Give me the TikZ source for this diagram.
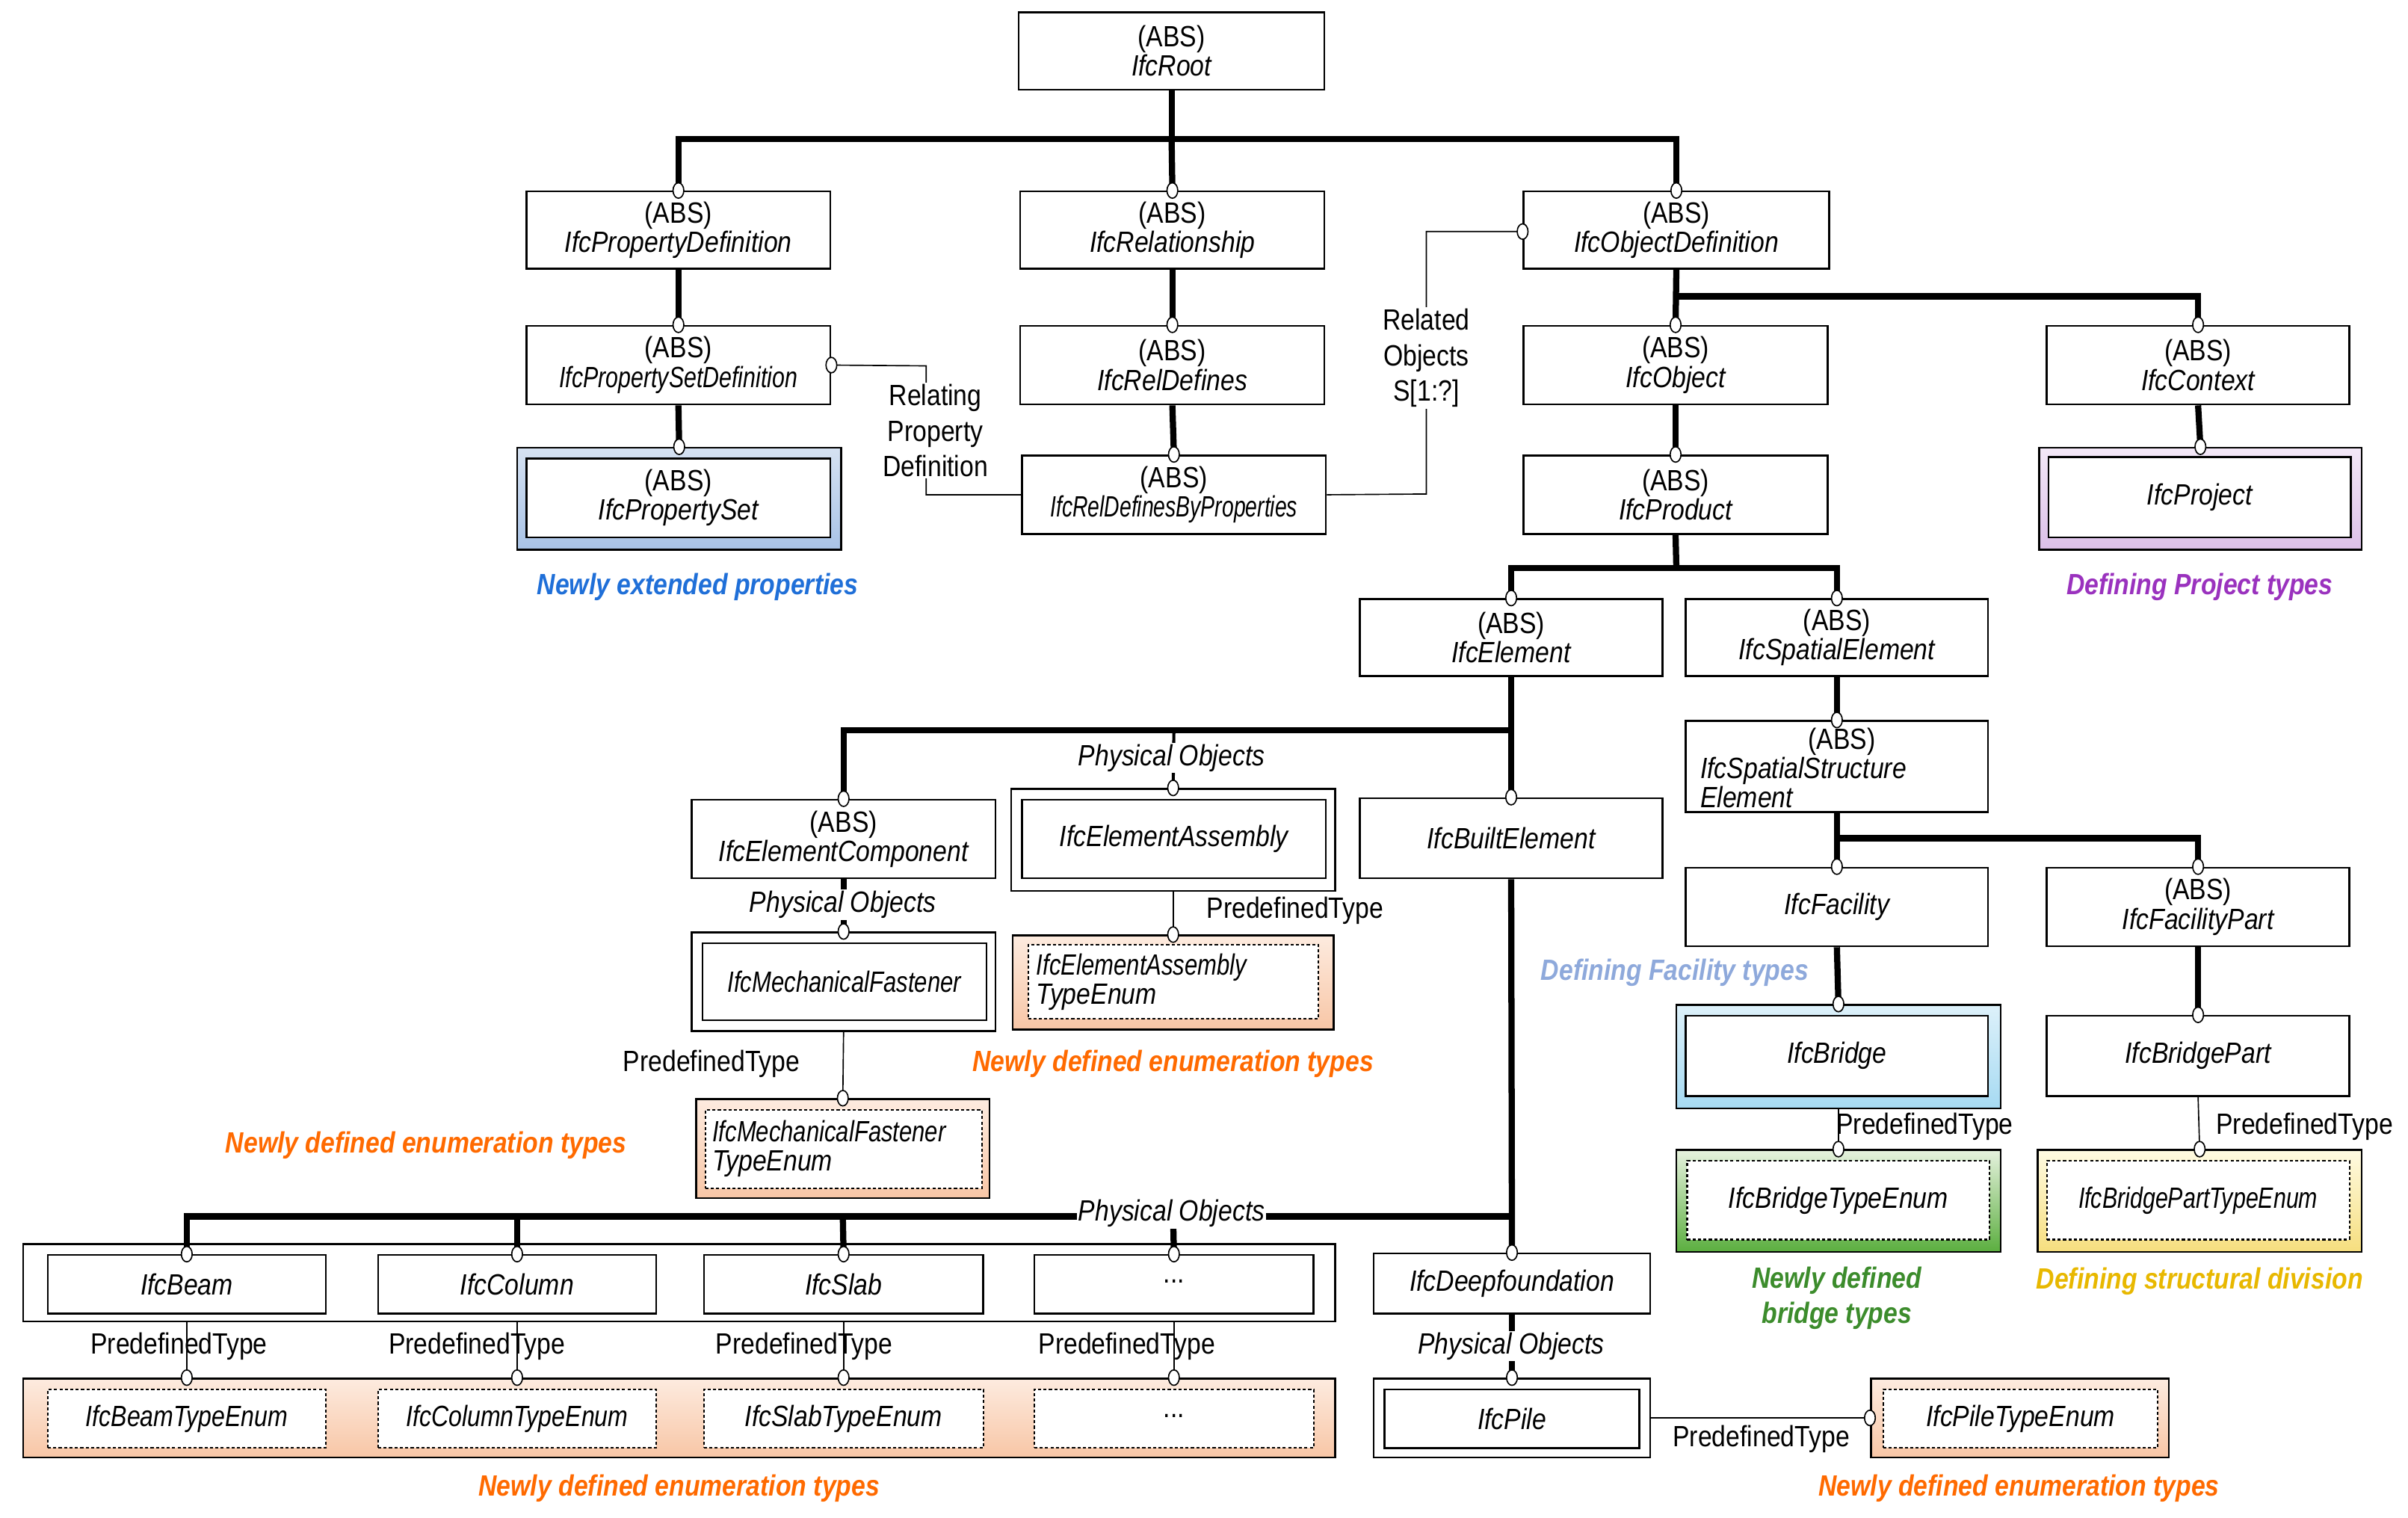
\documentclass[tikz,border=0pt]{standalone}
\usepackage{fontspec}
\setmainfont{Liberation Sans}[FakeStretch=0.86]
\usetikzlibrary{fit,shapes.geometric}
\definecolor{pkT}{HTML}{FDEBDF}\definecolor{pkB}{HTML}{F8C6A6}
\definecolor{blT}{HTML}{D6E2F2}\definecolor{blB}{HTML}{A9C3E6}
\definecolor{puT}{HTML}{F3E8F7}\definecolor{puB}{HTML}{DCC0E8}
\definecolor{lbT}{HTML}{DDF1FA}\definecolor{lbB}{HTML}{A6DAF2}
\definecolor{grT}{HTML}{E6F2DE}\definecolor{grB}{HTML}{5BAE3F}
\definecolor{ylT}{HTML}{FFFBE2}\definecolor{ylB}{HTML}{F6DE7E}
\definecolor{cblue}{HTML}{1F6FD8}\definecolor{corange}{HTML}{FF6A00}
\definecolor{cpurple}{HTML}{9A32BE}\definecolor{cfac}{HTML}{8EA9DB}
\definecolor{cgreen}{HTML}{3C8C2C}\definecolor{cgold}{HTML}{E8B800}
\tikzset{
  bx/.style={draw,line width=1.2pt,fill=white},
  dbx/.style={draw,line width=1pt,fill=white,dash pattern=on 2pt off 1.5pt},
  pk/.style={draw,line width=1.2pt,top color=pkT,bottom color=pkB},
  bl/.style={draw,line width=1.2pt,top color=blT,bottom color=blB},
  pu/.style={draw,line width=1.2pt,top color=puT,bottom color=puB},
  lb/.style={draw,line width=1.2pt,top color=lbT,bottom color=lbB},
  gr/.style={draw,line width=1.2pt,top color=grT,bottom color=grB},
  yl/.style={draw,line width=1.2pt,top color=ylT,bottom color=ylB},
  bus/.style={line width=4pt},
  thin/.style={line width=0.8pt},
  dot/.style={ellipse,draw,fill=white,line width=0.8pt,minimum width=7pt,minimum height=10pt,inner sep=0pt},
  txt/.style={align=center,font=\fontsize{19}{19}\selectfont},
  lab/.style={align=center,font=\fontsize{19}{23}\selectfont,fill=white,inner sep=1pt},
  note/.style={align=center,font=\fontsize{19}{23}\selectfont\bfseries\itshape},
}
\newcommand\mkbox[7]{\node[#1,fit={(#3,#4)(#5,#6)},inner sep=0pt](#2){};\node[txt] at (#2.center) {#7};}
\newcommand\abs[1]{(ABS)\\\itshape #1}
\newcommand\sq[2]{\scalebox{#1}[1]{#2}}
\begin{document}
\begin{tikzpicture}[x=1pt,y=-1pt]
\useasboundingbox[fill=white] (0,0) rectangle (1560,983);
% outer containers
\node[bl,fit={(335,290)(545,356)},inner sep=0pt](psout){};
\node[pu,fit={(1321,290)(1530,356)},inner sep=0pt](prout){};
\node[bx,fit={(655,511)(865,577)},inner sep=0pt](eaout){};
\node[pk,fit={(656,606)(864,667)},inner sep=0pt](eaeout){};
\node[bx,fit={(448,604)(645,668)},inner sep=0pt](mfout){};
\node[pk,fit={(451,712)(641,776)},inner sep=0pt](mfeout){};
\node[lb,fit={(1086,651)(1296,718)},inner sep=0pt](brout){};
\node[gr,fit={(1086,745)(1296,811)},inner sep=0pt](breout){};
\node[yl,fit={(1320,745)(1530,811)},inner sep=0pt](bpeout){};
\node[bx,fit={(15,806)(865,856)},inner sep=0pt](rowout){};
\node[pk,fit={(15,893)(865,944)},inner sep=0pt](enout){};
\node[bx,fit={(890,893)(1069,944)},inner sep=0pt](pileout){};
\node[pk,fit={(1212,893)(1405,944)},inner sep=0pt](pteout){};
% boxes
\mkbox{bx}{root}{660}{8}{858}{58}{\abs{IfcRoot}}
\mkbox{bx}{pdef}{341}{124}{538}{174}{\abs{IfcPropertyDefinition}}
\mkbox{bx}{rel}{661}{124}{858}{174}{\abs{IfcRelationship}}
\mkbox{bx}{odef}{987}{124}{1185}{174}{\abs{IfcObjectDefinition}}
\mkbox{bx}{psdef}{341}{211}{538}{262}{\abs{\sq{0.9}{IfcPropertySetDefinition}}}
\mkbox{bx}{reld}{661}{211}{858}{262}{\abs{IfcRelDefines}}
\mkbox{bx}{pset}{341}{297}{538}{348}{\abs{IfcPropertySet}}
\mkbox{bx}{rdbp}{662}{295}{859}{346}{\abs{\sq{0.84}{IfcRelDefinesByProperties}}}
\mkbox{bx}{obj}{987}{211}{1184}{262}{\abs{IfcObject}}
\mkbox{bx}{ctx}{1326}{211}{1522}{262}{\abs{IfcContext}}
\mkbox{bx}{prod}{987}{295}{1184}{346}{\abs{IfcProduct}}
\mkbox{bx}{proj}{1327}{296}{1523}{348}{\itshape IfcProject}
\mkbox{bx}{elem}{881}{388}{1077}{438}{\abs{IfcElement}}
\mkbox{bx}{spel}{1092}{388}{1288}{438}{\abs{IfcSpatialElement}}
\mkbox{bx}{sse}{1092}{467}{1288}{526}{}
\node[txt,anchor=north west,align=left,font=\fontsize{19}{19}\selectfont] at (1098,468) {\hspace*{70pt}(ABS)\\\itshape IfcSpatialStructure\\\itshape Element};
\mkbox{bx}{comp}{448}{518}{645}{569}{\abs{IfcElementComponent}}
\mkbox{bx}{asm}{662}{518}{859}{569}{\itshape IfcElementAssembly}
\mkbox{bx}{built}{881}{517}{1077}{569}{\itshape IfcBuiltElement}
\mkbox{bx}{mf}{455}{611}{639}{661}{\itshape\sq{0.92}{IfcMechanicalFastener}}
\mkbox{dbx}{mfe}{457}{719}{636}{770}{}
\node[txt,anchor=west,align=left] at (458,744) {\itshape\sq{0.92}{IfcMechanicalFastener}\\\itshape TypeEnum};
\mkbox{dbx}{asme}{666}{612}{854}{660}{}
\node[txt,anchor=west,align=left] at (668,636) {\itshape\sq{0.92}{IfcElementAssembly}\\\itshape TypeEnum};
\mkbox{bx}{fac}{1092}{562}{1288}{613}{\itshape IfcFacility}
\mkbox{bx}{facp}{1326}{562}{1522}{613}{\abs{IfcFacilityPart}}
\mkbox{bx}{br}{1092}{658}{1288}{710}{\itshape IfcBridge}
\mkbox{bx}{brp}{1326}{658}{1522}{710}{\itshape IfcBridgePart}
\mkbox{dbx}{bre}{1093}{752}{1289}{803}{\itshape IfcBridgeTypeEnum}
\mkbox{dbx}{brpe}{1326}{752}{1522}{803}{\itshape\sq{0.9}{IfcBridgePartTypeEnum}}
\mkbox{bx}{beam}{31}{813}{211}{851}{\itshape IfcBeam}
\mkbox{bx}{col}{245}{813}{425}{851}{\itshape IfcColumn}
\mkbox{bx}{slab}{456}{813}{637}{851}{\itshape IfcSlab}
\mkbox{bx}{etc}{670}{813}{851}{851}{\raisebox{4pt}{...}}
\mkbox{dbx}{beame}{31}{900}{211}{938}{\itshape\sq{0.95}{IfcBeamTypeEnum}}
\mkbox{dbx}{cole}{245}{900}{425}{938}{\itshape\sq{0.95}{IfcColumnTypeEnum}}
\mkbox{dbx}{slabe}{456}{900}{637}{938}{\itshape IfcSlabTypeEnum}
\mkbox{dbx}{etce}{670}{900}{851}{938}{\raisebox{4pt}{...}}
\mkbox{bx}{deep}{890}{812}{1069}{851}{\itshape IfcDeepfoundation}
\mkbox{bx}{pile}{897}{900}{1062}{938}{\itshape IfcPile}
\mkbox{dbx}{pte}{1220}{900}{1398}{938}{\itshape IfcPileTypeEnum}
% hierarchy buses
\draw[bus] (root.south) -- (759,90);
\draw[bus] (pdef.north) |- (odef.north |- 0,90) -- (odef.north);
\draw[bus] (rel.north) -- (759,90);
\draw[bus] (pdef.south) -- (psdef.north);
\draw[bus] (psdef.south) -- (psout.north);
\draw[bus] (rel.south) -- (reld.north);
\draw[bus] (reld.south) -- (rdbp.north);
\draw[bus] (odef.south) -- (obj.north);
\draw[bus] (odef.south |- 0,192) -| (ctx.north);
\draw[bus] (obj.south) -- (prod.north);
\draw[bus] (ctx.south) -- (prout.north);
\draw[bus] (prod.south) -- (1086,368);
\draw[bus] (elem.north) |- (1086,368) -| (spel.north);
\draw[bus] (spel.south) -- (sse.north);
\draw[bus] (elem.south) -- (built.north);
\draw[bus] (comp.north) |- (979,473);
\draw[line width=2pt] (asm.north |- 0,473) -- (eaout.north);
\draw[bus] (sse.south) -- (1190,543) -| (facp.north);
\draw[bus] (1190,543) -- (fac.north);
\draw[bus] (fac.south) -- (brout.north);
\draw[bus] (facp.south) -- (brp.north);
\draw[bus] (built.south) -- (deep.north);
\draw[bus] (beam.north) |- (979,788);
\draw[bus] (col.north) -- (335,788);
\draw[bus] (slab.north) -- (546,788);
\draw[bus] (etc.north) -- (760,788);
\draw[bus] (comp.south) -- (mfout.north);
\draw[bus] (deep.south) -- (pileout.north);
% thin connectors
\draw[thin] (mfout.south) -- (mfeout.north);
\draw[thin] (eaout.south) -- (eaeout.north);
\draw[thin] (brout.south) -- (breout.north);
\draw[thin] (brp.south) -- (bpeout.north);
\foreach \a/\b in {beam/beame,col/cole,slab/slabe,etc/etce}{\draw[thin] (\a.south |- rowout.south) -- (\b.north |- enout.north);}
\draw[thin] (pileout.east) -- (pteout.west);
\draw[thin] (psdef.east) -- (600,237) |- (rdbp.west);
\draw[thin] (rdbp.east) -- (924,320) |- (odef.west |- 0,150);
% labels on connectors
\node[lab] at (606,279) {Relating\\Property\\Definition};
\node[lab] at (924,232) {Related\\Objects\\S[1:?]};
\node[lab,font=\fontsize{19}{19}\selectfont\itshape] at (759,491) {Physical Objects};
\node[lab,font=\fontsize{19}{19}\selectfont\itshape] at (546,586) {Physical Objects};
\node[lab,font=\fontsize{19}{19}\selectfont\itshape] at (759,786) {Physical Objects};
\node[lab,font=\fontsize{19}{19}\selectfont\itshape] at (979,872) {Physical Objects};
\node[lab,fill=none] at (461,689) {PredefinedType};
\node[lab,fill=none] at (839,590) {PredefinedType};
\node[lab,fill=none] at (1247,730) {PredefinedType};
\node[lab,fill=none] at (1493,730) {PredefinedType};
\node[lab,fill=none] at (116,872) {PredefinedType};
\node[lab,fill=none] at (309,872) {PredefinedType};
\node[lab,fill=none] at (521,872) {PredefinedType};
\node[lab,fill=none] at (730,872) {PredefinedType};
\node[lab,fill=none] at (1141,932) {PredefinedType};
% dots
\foreach \p in {pdef.north,rel.north,odef.north,psdef.north,reld.north,psout.north,rdbp.north,obj.north,ctx.north,prod.north,prout.north,elem.north,spel.north,sse.north,comp.north,eaout.north,built.north,mfout.north,mfeout.north,eaeout.north,fac.north,facp.north,brout.north,brp.north,breout.north,bpeout.north,beam.north,col.north,slab.north,etc.north,deep.north,pileout.north}{\node[dot] at (\p) {};}
\foreach \b in {beame,cole,slabe,etce}{\node[dot] at (\b.north |- enout.north) {};}
\node[dot] at (psdef.east) {};
\node[dot] at (odef.west |- 0,150) {};
\node[dot] at (pteout.west) {};
% notes
\node[note,text=cblue] at (452,380) {Newly extended properties};
\node[note,text=cpurple] at (1425,380) {Defining Project types};
\node[note,text=corange] at (760,689) {Newly defined enumeration types};
\node[note,text=corange] at (276,742) {Newly defined enumeration types};
\node[note,text=corange] at (440,964) {Newly defined enumeration types};
\node[note,text=corange] at (1308,964) {Newly defined enumeration types};
\node[note,text=cfac] at (1085,630) {Defining Facility types};
\node[note,text=cgreen] at (1190,841) {Newly defined\\bridge types};
\node[note,text=cgold] at (1425,830) {Defining structural division};
\end{tikzpicture}
\end{document}
